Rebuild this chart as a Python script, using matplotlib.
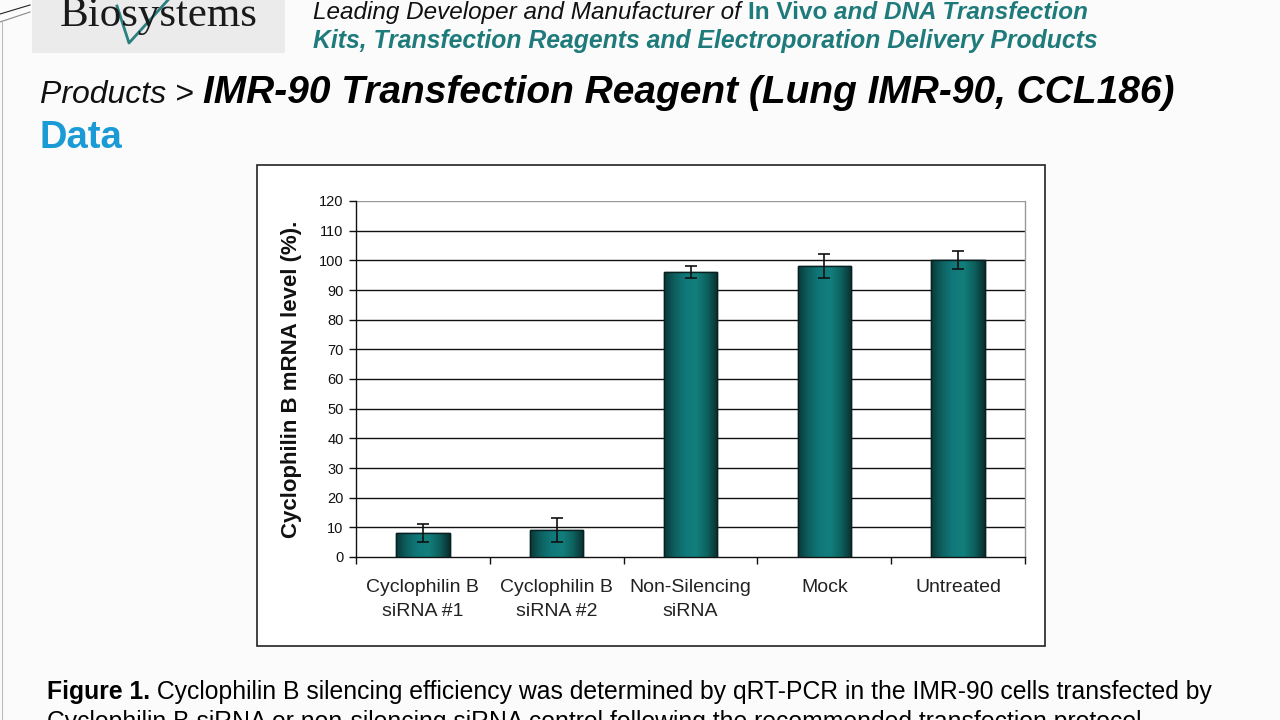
import matplotlib
matplotlib.use("Agg")
import matplotlib.pyplot as plt
import numpy as np
from matplotlib.colors import LinearSegmentedColormap
from matplotlib.patches import Rectangle

categories = ["Cyclophilin B\nsiRNA #1", "Cyclophilin B\nsiRNA #2", "Non-Silencing\nsiRNA", "Mock", "Untreated"]
values = [8, 9, 96, 98, 100]
errors = [3, 4, 2, 4, 3]
yticks = [0, 10, 20, 30, 40, 50, 60, 70, 80, 90, 100, 110, 120]

W, H = 1280, 720
fig = plt.figure(figsize=(12.8, 7.2), dpi=100)
fig.patch.set_facecolor("#fbfbfb")
plt.rcParams['font.family'] = ['Liberation Sans', 'DejaVu Sans']

def px(x, y):
    return x / W, 1 - y / H

renderer = fig.canvas.get_renderer()

def runs(x, y, parts):
    # parts: list of (text, color, weight, style, size)
    for txt, col, wt, st, sz in parts:
        t = fig.text(*px(x, y), txt, color=col, fontsize=sz, fontweight=wt,
                     fontstyle=st, va='baseline', ha='left')
        bb = t.get_window_extent(renderer)
        x += bb.width

# chart frame
fig.add_artist(Rectangle(px(257, 646), 788 / W, 481 / H, transform=fig.transFigure,
                         facecolor="white", edgecolor="#222222", lw=1.2, zorder=0))

# logo
fig.add_artist(Rectangle(px(32, 53), 253 / W, 53 / H, transform=fig.transFigure,
                         facecolor="#ebebeb", edgecolor="none", zorder=1))
fig.text(*px(60, 26), "Biosystems", family="Liberation Serif", fontsize=31,
         color="#1a1a1a", va='baseline', zorder=3)
fig.add_artist(plt.Line2D([117 / W, 129 / W, 168 / W], [1 - 6 / H, 1 - 43 / H, 1 - 0 / H],
                          transform=fig.transFigure, color="#2a7f7f", lw=2, zorder=2))
fig.add_artist(plt.Line2D([0, 30 / W], [1 - 22 / H, 1 - 12 / H], transform=fig.transFigure,
                          color="#888888", lw=0.8))
fig.add_artist(plt.Line2D([0, 30 / W], [1 - 14 / H, 1 - 5 / H], transform=fig.transFigure,
                          color="#222222", lw=0.8))
fig.add_artist(plt.Line2D([2 / W, 2 / W], [0, 1 - 20 / H], transform=fig.transFigure,
                          color="#bbbbbb", lw=0.8))

teal = "#1f7b7b"
runs(313, 19, [("Leading Developer and Manufacturer of ", "#111111", "normal", "italic", 17.5),
               ("In Vivo ", teal, "bold", "normal", 17.5),
               ("and DNA Transfection", teal, "bold", "italic", 17.5)])
runs(313, 48, [("Kits, Transfection Reagents and Electroporation Delivery Products", teal, "bold", "italic", 17.8)])
runs(40, 103, [("Products > ", "#111111", "normal", "italic", 23),
               ("IMR-90 Transfection Reagent (Lung IMR-90, CCL186)", "#000000", "bold", "italic", 28)])
fig.text(*px(39, 148), "Data", color="#1b9bd6", fontsize=27.5, fontweight="bold", va='baseline')

runs(47, 699, [("Figure 1.", "#000000", "bold", "normal", 17.8),
               (" Cyclophilin B silencing efficiency was determined by qRT-PCR in the IMR-90 cells transfected by",
                "#000000", "normal", "normal", 17.8)])
runs(47, 729, [("Cyclophilin B siRNA or non-silencing siRNA control following the recommended transfection protocol.",
                "#000000", "normal", "normal", 17.8)])

# axes
l, b = px(356, 557)
r, t = px(1025, 201)
ax = fig.add_axes([l, b, r - l, t - b])
ax.set_facecolor("white")
x = np.arange(len(categories))
bars = ax.bar(x, values, width=0.4, color="#0f6e6c", edgecolor="#0a2424", lw=1.0, zorder=3)

cmap = LinearSegmentedColormap.from_list("cyl", ["#093838", "#0d6160", "#10787a", "#127f7c", "#0e6260", "#082e2e"])
grad = np.linspace(0, 1, 256).reshape(1, -1)
for rect in bars:
    x0 = rect.get_x(); w = rect.get_width(); h = rect.get_height()
    im = ax.imshow(grad, extent=[x0, x0 + w, 0, h], aspect='auto', cmap=cmap, zorder=3.5,
                   interpolation='bicubic')
    im.set_clip_path(rect)
    ax.add_patch(Rectangle((x0, 0), w, h, fill=False, edgecolor="#0a2020", lw=1.0, zorder=4))

ax.errorbar(x, values, yerr=errors, fmt='none', ecolor="#111111", elinewidth=1.2,
            capsize=4.5, capthick=1.2, zorder=5)

ax.set_xlim(-0.5, len(categories) - 0.5)
ax.set_ylim(0, 120)
ax.set_yticks(yticks)
ax.set_yticklabels([str(v) for v in yticks], fontsize=10.5, color="#111111")
for v in yticks[1:-1]:
    ax.axhline(v, color="#111111", lw=1.0, zorder=1)
ax.axhline(120, color="#999999", lw=1.0, zorder=1)

ax.set_xticks(np.arange(-0.5, len(categories)), labels=[""] * (len(categories) + 1))
ax.set_xticks(x, minor=True)
ax.set_xticklabels(categories, minor=True, fontsize=14, color="#222222", linespacing=1.5)
ax.tick_params(axis='x', which='minor', length=0, pad=16)
ax.tick_params(axis='x', which='major', length=5, width=1, color="#111111", direction='out')
ax.tick_params(axis='y', length=5, width=1, color="#111111", direction='out', pad=4)

for s in ["left", "bottom"]:
    ax.spines[s].set_color("#111111"); ax.spines[s].set_linewidth(1.0)
ax.spines["top"].set_visible(False)
ax.spines["right"].set_color("#999999"); ax.spines["right"].set_linewidth(1.0)

ax.set_ylabel("Cyclophilin B mRNA level (%).", fontsize=16, fontweight="bold", color="#111111", labelpad=12)

fig.savefig("out.png", dpi=100, facecolor=fig.get_facecolor())
